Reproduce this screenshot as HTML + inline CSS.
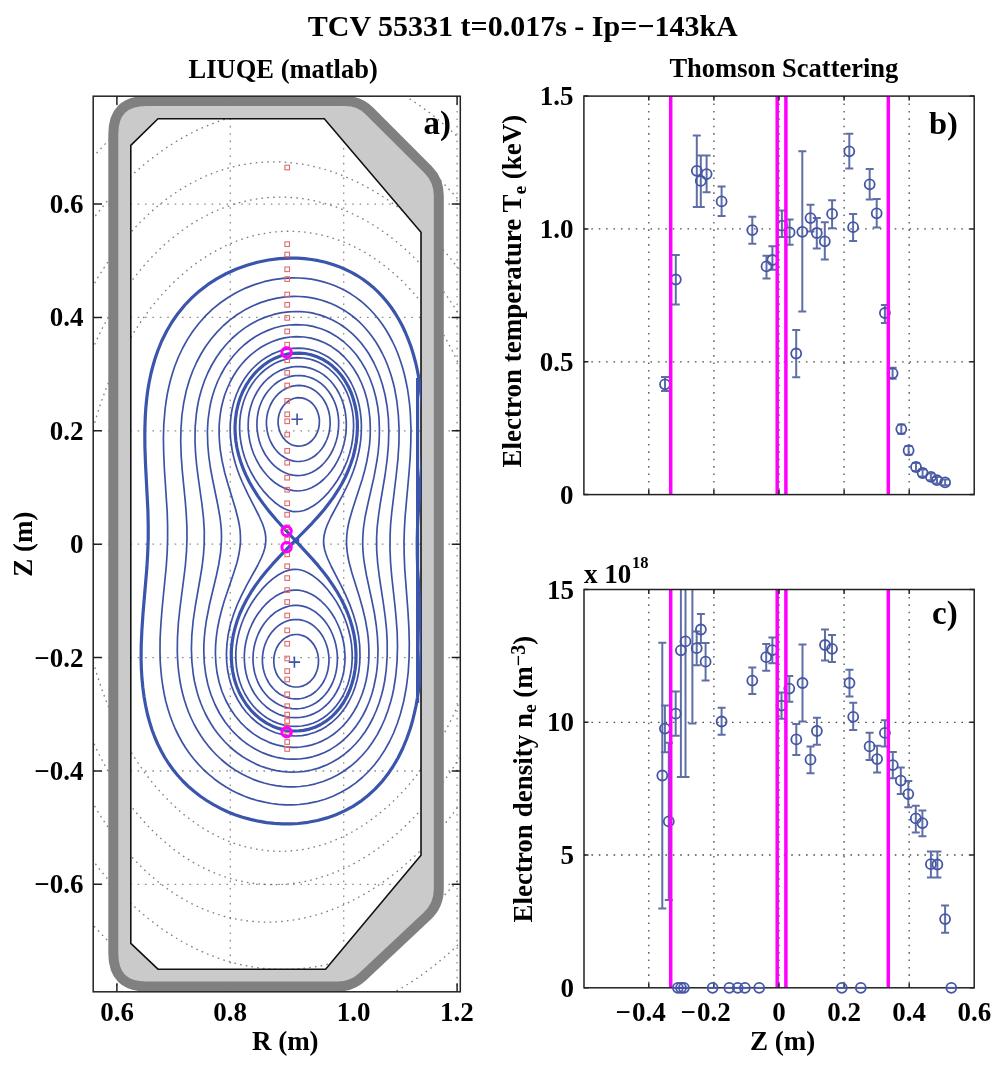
<!DOCTYPE html><html><head><meta charset="utf-8"><style>html,body{margin:0;padding:0;background:#fff;}svg{display:block;filter:blur(0.5px);}</style></head><body>
<svg width="1004" height="1069" viewBox="0 0 1004 1069" font-family="&quot;Liberation Serif&quot;, serif" font-weight="bold">
<rect width="1004" height="1069" fill="#fff"/>
<text x="307.8" y="35.5" font-size="30">TCV 55331 t=0.017s - Ip=−143kA</text>
<text x="188.6" y="77.8" font-size="26.5">LIUQE (matlab)</text>
<text x="669.4" y="77.2" font-size="26.5">Thomson Scattering</text>
<defs><clipPath id="ca"><rect x="93.95" y="96.95" width="365.6" height="894.0999999999999"/></clipPath>
<clipPath id="cin"><path d="M130.8,145.4 L158,118.8 L324.3,118.8 L421,232.3 L421,855.2 L325.6,969.3 L158,969.2 L130.8,943.4 Z"/></clipPath>
<clipPath id="cb"><rect x="583.9" y="96.1" width="390.3" height="398.5"/></clipPath>
<clipPath id="cc"><rect x="584" y="589.5" width="390.2" height="398.3"/></clipPath>
</defs>
<rect x="93.2" y="96.2" width="367.1" height="895.6" fill="none" stroke="#222" stroke-width="1.5"/>
<path d="M116.9,96.2 v8.6 M116.9,991.8 v-8.6 M230.3,96.2 v8.6 M230.3,991.8 v-8.6 M343.7,96.2 v8.6 M343.7,991.8 v-8.6 M457.1,96.2 v8.6 M457.1,991.8 v-8.6 M93.2,204.1 h8.6 M460.3,204.1 h-8.6 M93.2,317.4 h8.6 M460.3,317.4 h-8.6 M93.2,430.8 h8.6 M460.3,430.8 h-8.6 M93.2,544.2 h8.6 M460.3,544.2 h-8.6 M93.2,657.6 h8.6 M460.3,657.6 h-8.6 M93.2,771.0 h8.6 M460.3,771.0 h-8.6 M93.2,884.3 h8.6 M460.3,884.3 h-8.6" stroke="#222" stroke-width="1.5"/>
<g clip-path="url(#ca)">
<path d="M116.9,96.2 V991.8 M230.3,96.2 V991.8 M343.7,96.2 V991.8 M457.1,96.2 V991.8 M93.2,204.1 H460.3 M93.2,317.4 H460.3 M93.2,430.8 H460.3 M93.2,544.2 H460.3 M93.2,657.6 H460.3 M93.2,771.0 H460.3 M93.2,884.3 H460.3" stroke="#000" stroke-width="1.3" stroke-dasharray="1.6 5.8" fill="none" opacity="0.45"/>
<path d="M492.7,541.0 492.4,549.1 492.1,557.3 491.5,565.4 490.9,573.5 490.1,581.5 489.1,589.5 488.1,597.5 486.9,605.4 485.5,613.2 484.0,621.0 482.4,628.7 480.7,636.4 478.8,644.0 476.8,651.5 474.7,658.9 472.5,666.2 470.1,673.4 467.6,680.6 465.1,687.6 462.3,694.6 459.5,701.4 456.6,708.2 453.6,714.8 450.4,721.3 447.2,727.7 443.8,733.9 440.4,740.0 436.8,746.0 433.2,751.9 429.4,757.6 425.6,763.2 421.7,768.7 417.7,774.0 413.6,779.1 409.4,784.1 405.1,789.0 400.8,793.7 396.3,798.2 391.9,802.6 387.3,806.8 382.7,810.8 377.9,814.6 373.2,818.3 368.3,821.8 363.5,825.1 358.5,828.2 353.5,831.2 348.5,833.9 343.4,836.5 338.2,838.8 333.0,841.0 327.8,843.0 322.5,844.7 317.2,846.3 311.9,847.6 306.6,848.8 301.2,849.7 295.8,850.4 290.4,850.9 285.0,851.2 279.6,851.3 274.2,851.2 268.7,850.8 263.3,850.2 257.9,849.4 252.5,848.4 247.2,847.2 241.8,845.8 236.5,844.1 231.2,842.2 225.9,840.1 220.7,837.8 215.5,835.3 210.4,832.6 205.3,829.6 200.3,826.5 195.3,823.1 190.4,819.6 185.5,815.8 180.7,811.9 176.0,807.7 171.4,803.4 166.9,798.8 162.4,794.1 158.0,789.2 153.7,784.2 149.5,778.9 145.4,773.5 141.4,768.0 137.5,762.2 133.7,756.3 130.0,750.3 126.5,744.1 123.0,737.8 119.6,731.3 116.4,724.7 113.3,718.0 110.3,711.2 107.4,704.2 104.7,697.2 102.1,690.0 99.6,682.7 97.2,675.3 95.0,667.9 92.9,660.4 90.9,652.7 89.1,645.0 87.4,637.3 85.9,629.5 84.5,621.6 83.2,613.7 82.1,605.7 81.1,597.7 80.2,589.7 79.5,581.6 78.9,573.5 78.5,565.4 78.2,557.3 78.1,549.1 78.1,541.0 78.2,532.9 78.5,524.8 78.9,516.7 79.5,508.6 80.2,500.6 81.0,492.5 82.0,484.6 83.1,476.6 84.4,468.7 85.8,460.9 87.3,453.1 88.9,445.4 90.7,437.8 92.7,430.2 94.7,422.8 96.9,415.4 99.2,408.1 101.6,400.8 104.2,393.7 106.8,386.7 109.6,379.8 112.6,373.0 115.6,366.3 118.7,359.8 122.0,353.4 125.3,347.1 128.8,340.9 132.4,334.8 136.0,329.0 139.8,323.2 143.7,317.6 147.6,312.2 151.7,306.9 155.8,301.7 160.1,296.7 164.4,291.9 168.7,287.3 173.2,282.8 177.8,278.5 182.4,274.4 187.0,270.4 191.8,266.6 196.6,263.0 201.5,259.6 206.4,256.4 211.4,253.3 216.4,250.5 221.5,247.8 226.6,245.3 231.8,243.1 237.0,241.0 242.2,239.1 247.5,237.4 252.8,235.9 258.1,234.7 263.5,233.6 268.8,232.7 274.2,232.0 279.6,231.6 285.0,231.3 290.4,231.2 295.8,231.4 301.2,231.8 306.6,232.3 312.0,233.1 317.4,234.1 322.8,235.3 328.1,236.7 333.4,238.3 338.7,240.1 344.0,242.1 349.3,244.4 354.4,246.8 359.6,249.5 364.7,252.3 369.8,255.4 374.8,258.7 379.7,262.1 384.6,265.8 389.4,269.6 394.2,273.7 398.9,277.9 403.5,282.4 408.0,287.0 412.5,291.8 416.8,296.8 421.1,302.0 425.3,307.3 429.3,312.9 433.3,318.5 437.2,324.4 440.9,330.4 444.6,336.6 448.1,342.9 451.5,349.3 454.8,355.9 458.0,362.7 461.0,369.5 463.9,376.5 466.7,383.6 469.4,390.8 471.9,398.2 474.3,405.6 476.5,413.1 478.6,420.7 480.6,428.4 482.4,436.2 484.1,444.0 485.6,451.9 487.0,459.8 488.2,467.8 489.3,475.9 490.2,483.9 491.0,492.1 491.7,500.2 492.2,508.3 492.5,516.5 492.7,524.7 492.8,532.8 492.7,541.0Z M517.4,541.0 517.2,550.1 516.8,559.2 516.3,568.3 515.6,577.3 514.7,586.4 513.6,595.3 512.4,604.2 511.0,613.1 509.4,621.8 507.7,630.5 505.8,639.1 503.8,647.6 501.6,656.1 499.3,664.4 496.8,672.6 494.2,680.7 491.4,688.7 488.5,696.6 485.5,704.3 482.4,711.9 479.1,719.4 475.7,726.8 472.2,734.0 468.5,741.0 464.8,748.0 461.0,754.7 457.0,761.4 453.0,767.8 448.8,774.2 444.6,780.3 440.2,786.4 435.8,792.2 431.3,797.9 426.7,803.4 422.0,808.8 417.2,814.0 412.4,819.1 407.5,824.0 402.5,828.7 397.5,833.2 392.3,837.6 387.2,841.8 381.9,845.8 376.6,849.6 371.2,853.2 365.8,856.7 360.3,860.0 354.8,863.1 349.2,866.0 343.5,868.7 337.8,871.2 332.1,873.5 326.3,875.6 320.5,877.5 314.7,879.2 308.8,880.6 302.9,881.9 296.9,882.9 291.0,883.7 285.0,884.3 279.0,884.6 273.0,884.7 267.0,884.6 261.0,884.2 254.9,883.6 248.9,882.7 242.9,881.6 236.9,880.3 231.0,878.7 225.0,876.8 219.1,874.7 213.2,872.4 207.4,869.8 201.6,867.0 195.8,863.9 190.2,860.5 184.5,857.0 179.0,853.1 173.5,849.1 168.1,844.8 162.8,840.2 157.5,835.5 152.4,830.5 147.3,825.3 142.4,819.8 137.5,814.2 132.8,808.3 128.2,802.3 123.7,796.0 119.3,789.6 115.0,782.9 110.9,776.1 106.9,769.1 103.1,762.0 99.3,754.7 95.7,747.3 92.3,739.7 89.0,731.9 85.8,724.1 82.8,716.1 80.0,708.0 77.2,699.8 74.7,691.5 72.2,683.1 70.0,674.6 67.9,666.0 65.9,657.4 64.1,648.7 62.4,639.9 60.9,631.1 59.6,622.2 58.3,613.3 57.3,604.3 56.4,595.3 55.6,586.3 55.0,577.3 54.6,568.2 54.3,559.1 54.1,550.1 54.1,541.0 54.3,531.9 54.6,522.9 55.0,513.9 55.6,504.8 56.4,495.8 57.3,486.9 58.3,478.0 59.5,469.1 60.8,460.3 62.3,451.5 63.9,442.8 65.7,434.1 67.6,425.5 69.6,417.0 71.8,408.6 74.2,400.2 76.7,391.9 79.3,383.8 82.1,375.7 85.0,367.8 88.0,359.9 91.2,352.2 94.5,344.6 98.0,337.2 101.5,329.8 105.3,322.7 109.1,315.6 113.1,308.8 117.1,302.1 121.4,295.5 125.7,289.2 130.1,283.0 134.7,277.0 139.3,271.2 144.1,265.5 149.0,260.1 153.9,254.9 159.0,249.9 164.1,245.1 169.3,240.5 174.7,236.1 180.0,232.0 185.5,228.1 191.0,224.4 196.6,220.9 202.3,217.7 208.0,214.7 213.7,211.9 219.5,209.4 225.4,207.1 231.2,205.1 237.1,203.2 243.1,201.7 249.0,200.3 255.0,199.2 261.0,198.3 267.0,197.7 273.0,197.3 279.0,197.1 285.0,197.2 291.0,197.5 297.0,198.0 303.0,198.7 308.9,199.7 314.9,200.9 320.8,202.3 326.7,203.9 332.5,205.8 338.3,207.8 344.1,210.1 349.9,212.6 355.6,215.2 361.2,218.1 366.8,221.2 372.4,224.5 377.9,228.0 383.3,231.7 388.7,235.6 394.1,239.7 399.3,244.0 404.5,248.5 409.6,253.2 414.7,258.0 419.6,263.1 424.5,268.3 429.3,273.7 434.0,279.3 438.6,285.1 443.1,291.0 447.6,297.1 451.9,303.4 456.1,309.9 460.2,316.5 464.2,323.3 468.1,330.3 471.8,337.4 475.5,344.6 479.0,352.0 482.4,359.6 485.6,367.3 488.7,375.1 491.6,383.1 494.5,391.1 497.1,399.3 499.6,407.6 502.0,416.1 504.2,424.6 506.2,433.2 508.1,441.9 509.8,450.6 511.3,459.5 512.7,468.4 513.9,477.4 514.9,486.4 515.8,495.4 516.5,504.5 517.0,513.6 517.3,522.7 517.4,531.9 517.4,541.0Z M541.9,541.0 541.7,551.1 541.3,561.1 540.7,571.2 539.9,581.2 538.9,591.1 537.7,601.0 536.3,610.9 534.7,620.6 532.9,630.3 531.0,639.9 528.8,649.3 526.5,658.7 524.0,668.0 521.4,677.1 518.6,686.1 515.6,695.0 512.5,703.8 509.3,712.4 505.8,720.9 502.3,729.2 498.6,737.4 494.8,745.4 490.9,753.2 486.8,760.9 482.7,768.5 478.4,775.9 474.0,783.1 469.5,790.2 464.9,797.1 460.2,803.8 455.4,810.3 450.5,816.7 445.6,823.0 440.5,829.0 435.4,834.9 430.1,840.6 424.8,846.2 419.5,851.6 414.0,856.8 408.5,861.8 402.9,866.7 397.2,871.4 391.5,875.9 385.7,880.2 379.8,884.3 373.9,888.2 367.9,892.0 361.8,895.5 355.7,898.9 349.5,902.0 343.3,905.0 337.0,907.7 330.6,910.2 324.2,912.5 317.8,914.5 311.3,916.3 304.8,917.9 298.2,919.3 291.6,920.3 285.0,921.2 278.4,921.7 271.7,922.1 265.0,922.1 258.3,921.9 251.6,921.3 244.9,920.6 238.2,919.5 231.6,918.1 224.9,916.5 218.3,914.5 211.7,912.3 205.1,909.8 198.6,907.0 192.1,903.8 185.7,900.4 179.4,896.8 173.1,892.8 167.0,888.5 160.9,884.0 154.9,879.1 148.9,874.0 143.1,868.7 137.5,863.0 131.9,857.1 126.4,851.0 121.1,844.6 115.9,838.0 110.8,831.1 105.9,824.1 101.1,816.8 96.5,809.3 92.0,801.6 87.7,793.8 83.5,785.7 79.5,777.5 75.7,769.1 72.0,760.6 68.5,751.9 65.1,743.1 61.9,734.2 58.9,725.2 56.0,716.0 53.3,706.8 50.8,697.4 48.4,688.0 46.2,678.5 44.2,668.9 42.3,659.3 40.6,649.6 39.0,639.9 37.6,630.1 36.4,620.3 35.3,610.4 34.4,600.5 33.6,590.7 33.0,580.7 32.5,570.8 32.2,560.9 32.0,550.9 32.0,541.0 32.2,531.1 32.5,521.1 32.9,511.2 33.5,501.4 34.3,491.5 35.2,481.7 36.3,471.8 37.5,462.1 38.8,452.4 40.4,442.7 42.0,433.0 43.9,423.5 45.8,414.0 48.0,404.5 50.3,395.2 52.7,385.9 55.4,376.7 58.1,367.6 61.1,358.6 64.1,349.7 67.4,341.0 70.8,332.3 74.3,323.8 78.0,315.5 81.9,307.2 85.9,299.2 90.1,291.3 94.4,283.6 98.8,276.0 103.4,268.7 108.2,261.5 113.1,254.6 118.1,247.8 123.2,241.3 128.5,235.0 133.8,228.9 139.3,223.1 145.0,217.5 150.7,212.2 156.5,207.1 162.4,202.3 168.4,197.7 174.5,193.4 180.6,189.4 186.9,185.6 193.2,182.2 199.5,179.0 205.9,176.0 212.4,173.4 218.9,171.0 225.4,168.9 232.0,167.1 238.6,165.5 245.2,164.3 251.8,163.3 258.5,162.5 265.1,162.1 271.8,161.8 278.4,161.9 285.0,162.2 291.6,162.8 298.2,163.6 304.7,164.6 311.3,165.9 317.8,167.5 324.3,169.2 330.7,171.2 337.1,173.5 343.4,175.9 349.7,178.6 356.0,181.5 362.2,184.6 368.4,187.9 374.5,191.4 380.5,195.1 386.5,199.0 392.4,203.2 398.3,207.5 404.1,212.0 409.8,216.7 415.5,221.6 421.0,226.8 426.6,232.1 432.0,237.5 437.3,243.2 442.6,249.1 447.8,255.1 452.8,261.4 457.8,267.8 462.7,274.4 467.5,281.2 472.2,288.2 476.7,295.4 481.2,302.7 485.5,310.2 489.7,317.9 493.8,325.7 497.7,333.8 501.5,342.0 505.2,350.3 508.7,358.8 512.1,367.5 515.3,376.2 518.3,385.2 521.2,394.3 523.9,403.5 526.4,412.8 528.8,422.2 530.9,431.7 532.9,441.4 534.7,451.1 536.3,460.9 537.7,470.7 538.9,480.7 539.9,490.7 540.7,500.7 541.3,510.7 541.7,520.8 541.9,530.9 541.9,541.0Z M569.9,541.0 569.8,552.2 569.4,563.4 568.9,574.5 568.2,585.7 567.3,596.8 566.3,607.8 565.0,618.8 563.5,629.8 561.9,640.7 560.0,651.5 558.0,662.3 555.8,673.0 553.4,683.6 550.8,694.0 548.0,704.4 545.1,714.7 541.9,724.8 538.7,734.9 535.2,744.8 531.5,754.5 527.7,764.1 523.8,773.6 519.6,782.9 515.3,792.0 510.9,801.0 506.3,809.8 501.5,818.4 496.6,826.8 491.5,835.0 486.4,843.0 481.0,850.9 475.6,858.5 470.0,865.9 464.2,873.0 458.4,880.0 452.4,886.7 446.4,893.2 440.2,899.4 433.9,905.4 427.5,911.2 421.0,916.7 414.4,921.9 407.7,926.9 400.9,931.6 394.1,936.1 387.2,940.3 380.2,944.2 373.1,947.8 366.0,951.2 358.8,954.3 351.6,957.1 344.3,959.6 337.0,961.8 329.6,963.8 322.3,965.5 314.8,966.8 307.4,967.9 299.9,968.7 292.5,969.2 285.0,969.4 277.5,969.3 270.0,968.9 262.6,968.3 255.1,967.3 247.7,966.1 240.3,964.5 232.9,962.7 225.5,960.5 218.2,958.1 211.0,955.4 203.8,952.4 196.6,949.2 189.5,945.6 182.4,941.8 175.5,937.7 168.6,933.3 161.7,928.7 155.0,923.8 148.3,918.6 141.8,913.1 135.3,907.4 128.9,901.5 122.7,895.3 116.5,888.9 110.5,882.2 104.5,875.3 98.7,868.1 93.1,860.7 87.5,853.1 82.1,845.3 76.8,837.3 71.7,829.1 66.7,820.6 61.9,812.0 57.2,803.2 52.7,794.2 48.3,785.0 44.1,775.7 40.0,766.2 36.2,756.5 32.5,746.7 28.9,736.7 25.6,726.6 22.4,716.4 19.4,706.0 16.6,695.6 13.9,685.0 11.5,674.3 9.2,663.5 7.1,652.7 5.3,641.7 3.6,630.7 2.1,619.7 0.8,608.5 -0.3,597.3 -1.3,586.1 -2.0,574.9 -2.5,563.6 -2.8,552.3 -2.9,541.0 -2.8,529.7 -2.6,518.4 -2.1,507.1 -1.4,495.8 -0.5,484.6 0.5,473.4 1.8,462.3 3.2,451.2 4.9,440.1 6.7,429.2 8.8,418.3 11.0,407.5 13.4,396.7 16.0,386.1 18.8,375.6 21.8,365.2 25.0,354.9 28.3,344.8 31.8,334.8 35.5,324.9 39.3,315.2 43.4,305.6 47.6,296.2 51.9,287.0 56.4,277.9 61.1,269.1 65.9,260.4 70.9,251.9 76.1,243.6 81.3,235.5 86.7,227.6 92.3,220.0 98.0,212.5 103.8,205.3 109.7,198.3 115.8,191.6 121.9,185.1 128.2,178.8 134.6,172.8 141.1,167.1 147.7,161.6 154.3,156.4 161.1,151.4 168.0,146.7 174.9,142.3 181.9,138.1 189.0,134.3 196.1,130.7 203.3,127.4 210.6,124.4 217.9,121.6 225.2,119.2 232.6,117.0 240.0,115.2 247.5,113.6 255.0,112.3 262.5,111.4 270.0,110.7 277.5,110.3 285.0,110.2 292.5,110.4 300.0,110.9 307.5,111.7 315.0,112.8 322.5,114.2 329.9,115.9 337.3,117.9 344.6,120.1 352.0,122.7 359.2,125.5 366.4,128.6 373.6,132.0 380.7,135.7 387.7,139.7 394.7,143.9 401.5,148.4 408.3,153.2 415.0,158.2 421.6,163.5 428.2,169.1 434.6,174.9 440.9,180.9 447.1,187.2 453.2,193.8 459.2,200.5 465.0,207.5 470.7,214.8 476.3,222.2 481.8,229.9 487.1,237.8 492.3,245.9 497.4,254.2 502.3,262.6 507.0,271.3 511.6,280.1 516.1,289.2 520.4,298.4 524.5,307.7 528.4,317.2 532.2,326.9 535.8,336.7 539.3,346.6 542.6,356.7 545.7,366.9 548.6,377.2 551.3,387.7 553.9,398.2 556.2,408.8 558.4,419.5 560.4,430.3 562.2,441.2 563.8,452.1 565.3,463.1 566.5,474.1 567.6,485.2 568.4,496.3 569.1,507.5 569.5,518.6 569.8,529.8 569.9,541.0Z M605.0,541.0 604.9,553.6 604.6,566.1 604.0,578.7 603.2,591.2 602.3,603.7 601.1,616.1 599.6,628.5 598.0,640.8 596.2,653.1 594.1,665.2 591.8,677.3 589.3,689.3 586.6,701.2 583.7,713.0 580.6,724.7 577.3,736.2 573.8,747.6 570.1,758.9 566.2,770.0 562.1,781.0 557.8,791.8 553.4,802.4 548.7,812.9 543.9,823.1 538.9,833.2 533.7,843.1 528.3,852.7 522.8,862.2 517.1,871.4 511.3,880.4 505.3,889.2 499.1,897.7 492.8,906.0 486.4,914.0 479.8,921.8 473.1,929.3 466.2,936.6 459.3,943.6 452.2,950.3 445.0,956.7 437.7,962.8 430.3,968.7 422.8,974.2 415.2,979.5 407.5,984.5 399.7,989.1 391.8,993.5 383.9,997.5 375.9,1001.2 367.8,1004.6 359.7,1007.7 351.5,1010.5 343.3,1013.0 335.1,1015.1 326.8,1016.9 318.4,1018.4 310.1,1019.5 301.7,1020.3 293.4,1020.8 285.0,1021.0 276.6,1020.8 268.3,1020.3 259.9,1019.5 251.6,1018.4 243.2,1016.9 234.9,1015.1 226.7,1013.0 218.5,1010.5 210.3,1007.7 202.2,1004.6 194.1,1001.2 186.1,997.5 178.2,993.5 170.3,989.1 162.5,984.5 154.8,979.5 147.2,974.2 139.7,968.7 132.3,962.8 125.0,956.7 117.8,950.3 110.7,943.6 103.8,936.6 96.9,929.3 90.2,921.8 83.6,914.0 77.2,906.0 70.9,897.7 64.7,889.2 58.7,880.4 52.9,871.4 47.2,862.2 41.7,852.7 36.3,843.1 31.1,833.2 26.1,823.1 21.3,812.9 16.6,802.4 12.2,791.8 7.9,781.0 3.8,770.0 -0.1,758.9 -3.8,747.6 -7.3,736.2 -10.6,724.7 -13.7,713.0 -16.6,701.2 -19.3,689.3 -21.8,677.3 -24.1,665.2 -26.2,653.1 -28.0,640.8 -29.6,628.5 -31.1,616.1 -32.3,603.7 -33.2,591.2 -34.0,578.7 -34.6,566.1 -34.9,553.6 -35.0,541.0 -34.9,528.4 -34.6,515.9 -34.0,503.3 -33.2,490.8 -32.3,478.3 -31.1,465.9 -29.6,453.5 -28.0,441.2 -26.2,428.9 -24.1,416.8 -21.8,404.7 -19.3,392.7 -16.6,380.8 -13.7,369.0 -10.6,357.3 -7.3,345.8 -3.8,334.4 -0.1,323.1 3.8,312.0 7.9,301.0 12.2,290.2 16.6,279.6 21.3,269.1 26.1,258.9 31.1,248.8 36.3,238.9 41.7,229.3 47.2,219.8 52.9,210.6 58.7,201.6 64.7,192.8 70.9,184.3 77.2,176.0 83.6,168.0 90.2,160.2 96.9,152.7 103.8,145.4 110.7,138.4 117.8,131.7 125.0,125.3 132.3,119.2 139.7,113.3 147.2,107.8 154.8,102.5 162.5,97.5 170.3,92.9 178.2,88.5 186.1,84.5 194.1,80.8 202.2,77.4 210.3,74.3 218.5,71.5 226.7,69.0 234.9,66.9 243.2,65.1 251.6,63.6 259.9,62.5 268.3,61.7 276.6,61.2 285.0,61.0 293.4,61.2 301.7,61.7 310.1,62.5 318.4,63.6 326.8,65.1 335.1,66.9 343.3,69.0 351.5,71.5 359.7,74.3 367.8,77.4 375.9,80.8 383.9,84.5 391.8,88.5 399.7,92.9 407.5,97.5 415.2,102.5 422.8,107.8 430.3,113.3 437.7,119.2 445.0,125.3 452.2,131.7 459.3,138.4 466.2,145.4 473.1,152.7 479.8,160.2 486.4,168.0 492.8,176.0 499.1,184.3 505.3,192.8 511.3,201.6 517.1,210.6 522.8,219.8 528.3,229.3 533.7,238.9 538.9,248.8 543.9,258.9 548.7,269.1 553.4,279.6 557.8,290.2 562.1,301.0 566.2,312.0 570.1,323.1 573.8,334.4 577.3,345.8 580.6,357.3 583.7,369.0 586.6,380.8 589.3,392.7 591.8,404.7 594.1,416.8 596.2,428.9 598.0,441.2 599.6,453.5 601.1,465.9 602.3,478.3 603.2,490.8 604.0,503.3 604.6,515.9 604.9,528.4 605.0,541.0Z M641.7,541.0 641.5,555.0 641.2,569.0 640.6,583.0 639.7,596.9 638.6,610.8 637.3,624.7 635.7,638.5 633.9,652.2 631.8,665.9 629.5,679.5 627.0,692.9 624.2,706.3 621.2,719.6 618.0,732.7 614.5,745.7 610.8,758.6 606.9,771.3 602.8,783.9 598.4,796.3 593.9,808.5 589.1,820.5 584.1,832.4 578.9,844.0 573.5,855.5 568.0,866.7 562.2,877.7 556.2,888.5 550.1,899.0 543.7,909.3 537.2,919.3 530.5,929.1 523.7,938.6 516.6,947.8 509.5,956.8 502.1,965.4 494.6,973.8 487.0,981.9 479.3,989.7 471.4,997.2 463.3,1004.3 455.2,1011.2 446.9,1017.7 438.5,1023.9 430.1,1029.7 421.5,1035.3 412.8,1040.5 404.1,1045.3 395.2,1049.8 386.3,1054.0 377.3,1057.8 368.3,1061.2 359.2,1064.3 350.0,1067.0 340.8,1069.4 331.6,1071.4 322.3,1073.1 313.0,1074.4 303.7,1075.3 294.3,1075.8 285.0,1076.0 275.7,1075.8 266.3,1075.3 257.0,1074.4 247.7,1073.1 238.4,1071.4 229.2,1069.4 220.0,1067.0 210.8,1064.3 201.7,1061.2 192.7,1057.8 183.7,1054.0 174.8,1049.8 165.9,1045.3 157.2,1040.5 148.5,1035.3 139.9,1029.7 131.5,1023.9 123.1,1017.7 114.8,1011.2 106.7,1004.3 98.6,997.2 90.7,989.7 83.0,981.9 75.4,973.8 67.9,965.4 60.5,956.8 53.4,947.8 46.3,938.6 39.5,929.1 32.8,919.3 26.3,909.3 19.9,899.0 13.8,888.5 7.8,877.7 2.0,866.7 -3.5,855.5 -8.9,844.0 -14.1,832.4 -19.1,820.5 -23.9,808.5 -28.4,796.3 -32.8,783.9 -36.9,771.3 -40.8,758.6 -44.5,745.7 -48.0,732.7 -51.2,719.6 -54.2,706.3 -57.0,692.9 -59.5,679.5 -61.8,665.9 -63.9,652.2 -65.7,638.5 -67.3,624.7 -68.6,610.8 -69.7,596.9 -70.6,583.0 -71.2,569.0 -71.5,555.0 -71.7,541.0 -71.5,527.0 -71.2,513.0 -70.6,499.0 -69.7,485.1 -68.6,471.2 -67.3,457.3 -65.7,443.5 -63.9,429.8 -61.8,416.1 -59.5,402.5 -57.0,389.1 -54.2,375.7 -51.2,362.4 -48.0,349.3 -44.5,336.3 -40.8,323.4 -36.9,310.7 -32.8,298.1 -28.4,285.7 -23.9,273.5 -19.1,261.5 -14.1,249.6 -8.9,238.0 -3.5,226.5 2.0,215.3 7.8,204.3 13.8,193.5 19.9,183.0 26.3,172.7 32.8,162.7 39.5,152.9 46.3,143.4 53.4,134.2 60.5,125.2 67.9,116.6 75.4,108.2 83.0,100.1 90.7,92.3 98.6,84.8 106.7,77.7 114.8,70.8 123.1,64.3 131.5,58.1 139.9,52.3 148.5,46.7 157.2,41.5 165.9,36.7 174.8,32.2 183.7,28.0 192.7,24.2 201.7,20.8 210.8,17.7 220.0,15.0 229.2,12.6 238.4,10.6 247.7,8.9 257.0,7.6 266.3,6.7 275.7,6.2 285.0,6.0 294.3,6.2 303.7,6.7 313.0,7.6 322.3,8.9 331.6,10.6 340.8,12.6 350.0,15.0 359.2,17.7 368.3,20.8 377.3,24.2 386.3,28.0 395.2,32.2 404.1,36.7 412.8,41.5 421.5,46.7 430.1,52.3 438.5,58.1 446.9,64.3 455.2,70.8 463.3,77.7 471.4,84.8 479.3,92.3 487.0,100.1 494.6,108.2 502.1,116.6 509.5,125.2 516.6,134.2 523.7,143.4 530.5,152.9 537.2,162.7 543.7,172.7 550.1,183.0 556.2,193.5 562.2,204.3 568.0,215.3 573.5,226.5 578.9,238.0 584.1,249.6 589.1,261.5 593.9,273.5 598.4,285.7 602.8,298.1 606.9,310.7 610.8,323.4 614.5,336.3 618.0,349.3 621.2,362.4 624.2,375.7 627.0,389.1 629.5,402.5 631.8,416.1 633.9,429.8 635.7,443.5 637.3,457.3 638.6,471.2 639.7,485.1 640.6,499.0 641.2,513.0 641.5,527.0 641.7,541.0Z M681.7,541.0 681.5,556.6 681.1,572.1 680.4,587.7 679.5,603.2 678.3,618.7 676.8,634.1 675.0,649.4 673.0,664.7 670.7,679.9 668.2,695.0 665.3,710.0 662.3,724.9 658.9,739.6 655.3,754.2 651.5,768.7 647.4,783.0 643.0,797.2 638.4,811.1 633.6,824.9 628.5,838.5 623.2,851.9 617.7,865.1 611.9,878.0 605.9,890.7 599.7,903.2 593.3,915.4 586.6,927.4 579.8,939.1 572.7,950.6 565.5,961.7 558.0,972.6 550.4,983.2 542.6,993.4 534.6,1003.4 526.5,1013.0 518.2,1022.4 509.7,1031.4 501.0,1040.0 492.3,1048.3 483.3,1056.3 474.3,1063.9 465.1,1071.1 455.8,1078.0 446.3,1084.6 436.8,1090.7 427.2,1096.5 417.4,1101.9 407.6,1106.9 397.7,1111.5 387.7,1115.7 377.6,1119.6 367.5,1123.0 357.3,1126.0 347.1,1128.7 336.8,1130.9 326.5,1132.7 316.1,1134.2 305.8,1135.2 295.4,1135.8 285.0,1136.0 274.6,1135.8 264.2,1135.2 253.9,1134.2 243.5,1132.7 233.2,1130.9 222.9,1128.7 212.7,1126.0 202.5,1123.0 192.4,1119.6 182.3,1115.7 172.3,1111.5 162.4,1106.9 152.6,1101.9 142.8,1096.5 133.2,1090.7 123.7,1084.6 114.2,1078.0 104.9,1071.1 95.7,1063.9 86.7,1056.3 77.7,1048.3 69.0,1040.0 60.3,1031.4 51.8,1022.4 43.5,1013.0 35.4,1003.4 27.4,993.4 19.6,983.2 12.0,972.6 4.5,961.7 -2.7,950.6 -9.8,939.1 -16.6,927.4 -23.3,915.4 -29.7,903.2 -35.9,890.7 -41.9,878.0 -47.7,865.1 -53.2,851.9 -58.5,838.5 -63.6,824.9 -68.4,811.1 -73.0,797.2 -77.4,783.0 -81.5,768.7 -85.3,754.2 -88.9,739.6 -92.3,724.9 -95.3,710.0 -98.2,695.0 -100.7,679.9 -103.0,664.7 -105.0,649.4 -106.8,634.1 -108.3,618.7 -109.5,603.2 -110.4,587.7 -111.1,572.1 -111.5,556.6 -111.7,541.0 -111.5,525.4 -111.1,509.9 -110.4,494.3 -109.5,478.8 -108.3,463.3 -106.8,447.9 -105.0,432.6 -103.0,417.3 -100.7,402.1 -98.2,387.0 -95.3,372.0 -92.3,357.1 -88.9,342.4 -85.3,327.8 -81.5,313.3 -77.4,299.0 -73.0,284.8 -68.4,270.9 -63.6,257.1 -58.5,243.5 -53.2,230.1 -47.7,216.9 -41.9,204.0 -35.9,191.3 -29.7,178.8 -23.3,166.6 -16.6,154.6 -9.8,142.9 -2.7,131.4 4.5,120.3 12.0,109.4 19.6,98.8 27.4,88.6 35.4,78.6 43.5,69.0 51.8,59.6 60.3,50.6 69.0,42.0 77.7,33.7 86.7,25.7 95.7,18.1 104.9,10.9 114.2,4.0 123.7,-2.6 133.2,-8.7 142.8,-14.5 152.6,-19.9 162.4,-24.9 172.3,-29.5 182.3,-33.7 192.4,-37.6 202.5,-41.0 212.7,-44.0 222.9,-46.7 233.2,-48.9 243.5,-50.7 253.9,-52.2 264.2,-53.2 274.6,-53.8 285.0,-54.0 295.4,-53.8 305.8,-53.2 316.1,-52.2 326.5,-50.7 336.8,-48.9 347.1,-46.7 357.3,-44.0 367.5,-41.0 377.6,-37.6 387.7,-33.7 397.7,-29.5 407.6,-24.9 417.4,-19.9 427.2,-14.5 436.8,-8.7 446.3,-2.6 455.8,4.0 465.1,10.9 474.3,18.1 483.3,25.7 492.3,33.7 501.0,42.0 509.7,50.6 518.2,59.6 526.5,69.0 534.6,78.6 542.6,88.6 550.4,98.8 558.0,109.4 565.5,120.3 572.7,131.4 579.8,142.9 586.6,154.6 593.3,166.6 599.7,178.8 605.9,191.3 611.9,204.0 617.7,216.9 623.2,230.1 628.5,243.5 633.6,257.1 638.4,270.9 643.0,284.8 647.4,299.0 651.5,313.3 655.3,327.8 658.9,342.4 662.3,357.1 665.3,372.0 668.2,387.0 670.7,402.1 673.0,417.3 675.0,432.6 676.8,447.9 678.3,463.3 679.5,478.8 680.4,494.3 681.1,509.9 681.5,525.4 681.7,541.0Z" stroke="#4a4e66" stroke-width="1.3" stroke-dasharray="1.6 4.2" fill="none" opacity="0.75"/>
<path d="M146.3,101.0 L345.4,101.0 Q359.4,101.0 369.3,110.9 L428.2,169.8 Q438.8,180.4 438.8,195.4 L438.8,889.3 Q438.8,905.3 427.1,916.2 L362.4,976.9 Q352.2,986.5 338.2,986.5 L146.3,986.5 Q113.3,986.5 113.3,953.5 L113.3,134.0 Q113.3,101.0 146.3,101.0 Z M130.8,145.4 L158,118.8 L324.3,118.8 L421,232.3 L421,855.2 L325.6,969.3 L158,969.2 L130.8,943.4 Z" fill="#cacaca" fill-rule="evenodd"/>
<path d="M146.3,101.0 L345.4,101.0 Q359.4,101.0 369.3,110.9 L428.2,169.8 Q438.8,180.4 438.8,195.4 L438.8,889.3 Q438.8,905.3 427.1,916.2 L362.4,976.9 Q352.2,986.5 338.2,986.5 L146.3,986.5 Q113.3,986.5 113.3,953.5 L113.3,134.0 Q113.3,101.0 146.3,101.0 Z" fill="none" stroke="#808080" stroke-width="10"/>
<path d="M130.8,145.4 L158,118.8 L324.3,118.8 L421,232.3 L421,855.2 L325.6,969.3 L158,969.2 L130.8,943.4 Z" fill="none" stroke="#111" stroke-width="1.6"/>
</g>
<g clip-path="url(#cin)" fill="none" stroke-linejoin="round">
<path d="M301.6,446.0 305.5,444.9 309.0,443.0 312.0,440.5 314.9,437.0 317.0,433.2 318.5,429.0 319.3,424.5 319.4,419.5 318.6,415.0 317.1,410.5 315.0,406.7 312.4,403.5 309.0,400.7 305.5,398.9 301.5,397.9 297.5,397.7 293.5,398.5 289.5,400.3 286.0,402.9 283.0,406.2 280.7,410.0 279.0,414.5 278.2,419.0 278.1,424.0 279.0,429.0 280.6,433.5 283.0,437.6 286.0,441.0 289.5,443.6 291.5,444.7 293.5,445.4 297.5,446.2 301.6,446.0 M298.3,687.0 302.5,686.1 306.5,684.3 310.2,681.5 313.3,678.0 314.6,676.0 315.9,673.5 317.5,669.0 318.4,664.0 318.5,659.0 317.8,654.0 316.2,649.0 314.0,644.9 311.0,641.1 307.5,638.0 305.5,636.8 303.5,635.9 299.5,634.7 297.5,634.5 295.0,634.5 292.5,634.8 290.5,635.3 286.5,637.1 284.5,638.4 282.5,640.0 279.3,643.5 278.0,645.5 276.6,648.0 274.9,652.5 273.9,657.5 273.8,663.0 274.5,668.0 276.2,673.0 277.5,675.5 278.8,677.5 281.8,681.0 285.5,683.9 289.5,685.9 291.5,686.5 294.0,687.0 298.3,687.0 M303.4,461.0 306.5,460.2 309.0,459.2 312.0,457.7 314.6,456.0 317.0,454.0 319.5,451.5 321.6,449.0 323.7,446.0 325.3,443.0 326.9,439.5 328.2,436.0 329.1,432.5 329.7,429.0 330.1,425.5 330.1,421.5 329.9,418.0 329.4,414.5 328.6,411.0 327.5,407.5 326.3,404.5 324.7,401.5 322.8,398.5 320.8,396.0 318.5,393.6 316.0,391.4 313.5,389.7 311.0,388.3 308.0,387.0 305.0,386.1 302.0,385.6 299.0,385.4 296.0,385.6 292.5,386.1 289.5,387.0 286.5,388.2 283.5,389.9 280.5,392.0 278.0,394.2 275.5,396.9 273.5,399.5 271.7,402.5 270.2,405.5 268.8,409.0 267.7,412.5 267.0,416.0 266.5,420.0 266.4,423.5 266.7,427.5 267.3,431.5 268.1,435.0 269.3,438.5 270.8,442.0 272.7,445.5 274.7,448.5 277.0,451.3 279.5,453.8 282.0,455.8 285.0,457.8 288.0,459.3 291.0,460.4 294.0,461.1 297.0,461.5 300.0,461.4 303.4,461.0 M301.4,698.5 304.5,697.7 307.5,696.6 310.5,695.2 313.1,693.5 315.7,691.5 318.2,689.0 320.5,686.3 322.5,683.5 324.2,680.5 325.8,677.0 327.0,673.5 327.9,670.0 328.5,666.5 328.9,662.5 329.0,659.0 328.7,655.0 328.1,651.0 327.3,647.5 326.2,644.0 324.8,640.5 323.1,637.0 321.2,634.0 319.0,631.1 316.6,628.5 314.0,626.1 311.5,624.3 308.5,622.5 305.5,621.2 302.5,620.3 299.5,619.7 296.5,619.5 293.5,619.6 290.0,620.1 287.0,621.0 283.5,622.5 280.5,624.2 277.5,626.4 275.0,628.6 272.5,631.3 270.1,634.5 268.2,637.5 266.5,641.0 265.0,644.6 263.8,648.5 263.0,652.5 262.5,656.5 262.4,660.5 262.6,664.5 263.2,668.5 264.2,672.5 265.4,676.0 267.0,679.5 268.9,683.0 271.0,685.9 273.2,688.5 275.7,691.0 278.5,693.2 281.5,695.1 284.5,696.6 288.0,697.8 291.0,698.5 294.5,698.9 298.0,698.9 301.4,698.5 M300.9,475.5 304.5,474.9 308.5,473.8 312.0,472.3 315.5,470.3 319.0,467.8 322.2,465.0 325.4,461.5 328.1,458.0 330.7,454.0 332.8,450.0 334.7,445.5 336.2,441.0 337.4,436.5 338.2,431.5 338.6,426.5 338.7,421.5 338.3,416.5 337.6,412.0 336.5,407.5 335.0,403.1 333.2,399.0 331.0,395.0 328.7,391.5 326.0,388.2 323.0,385.2 320.0,382.7 316.5,380.4 313.0,378.6 309.5,377.2 305.5,376.2 301.5,375.6 297.5,375.5 293.5,375.8 289.5,376.7 285.5,378.0 281.5,379.8 278.0,381.8 274.4,384.5 271.2,387.5 268.1,391.0 265.5,394.5 263.1,398.5 261.2,402.5 259.5,407.0 258.3,411.5 257.4,416.5 257.0,421.0 256.9,426.0 257.3,431.0 258.1,436.0 259.3,441.0 260.8,445.5 262.8,450.0 265.2,454.5 268.0,458.6 271.0,462.3 274.0,465.4 277.5,468.3 281.0,470.7 285.0,472.8 289.0,474.3 293.0,475.2 297.0,475.6 300.9,475.5 M300.6,708.5 304.5,707.8 308.5,706.5 312.5,704.8 316.0,702.8 319.5,700.2 322.5,697.5 325.5,694.2 328.3,690.5 330.7,686.5 332.7,682.5 334.4,678.0 335.7,673.5 336.6,669.0 337.2,664.0 337.4,659.5 337.3,654.5 336.7,649.5 335.8,644.5 334.4,639.5 332.8,635.0 330.8,630.5 328.5,626.4 325.9,622.5 323.0,618.9 320.0,615.8 316.5,612.8 313.0,610.4 309.0,608.3 305.5,606.9 301.5,605.9 297.5,605.4 293.5,605.4 289.5,606.0 285.5,607.1 281.5,608.7 277.5,610.9 274.0,613.3 270.3,616.5 267.0,620.0 263.9,624.0 261.0,628.5 258.7,633.0 256.8,637.5 255.2,642.5 254.0,647.5 253.3,652.5 253.0,658.0 253.1,663.0 253.7,668.0 254.7,673.0 256.1,677.5 257.8,682.0 260.0,686.3 262.5,690.2 265.4,694.0 268.5,697.3 272.0,700.3 275.5,702.8 279.5,705.0 283.5,706.7 287.5,707.8 292.0,708.6 296.5,708.8 300.6,708.5 M302.7,490.5 307.0,489.5 311.5,487.7 316.0,485.2 320.0,482.5 324.0,479.0 327.9,475.0 331.5,470.5 334.6,466.0 337.5,460.9 340.1,455.5 342.2,450.0 343.9,444.0 345.1,438.5 346.0,432.5 346.3,426.5 346.2,420.5 345.6,414.5 344.7,409.0 343.2,403.5 341.4,398.5 339.1,393.5 336.6,389.0 333.8,385.0 330.5,381.0 326.9,377.5 323.0,374.4 319.0,371.9 314.5,369.7 310.0,368.1 305.5,367.1 301.0,366.6 296.0,366.5 291.0,367.1 286.0,368.3 281.0,370.1 276.5,372.4 272.0,375.3 268.0,378.5 264.0,382.4 260.6,386.5 257.6,391.0 254.8,396.0 252.6,401.0 250.8,406.5 249.4,412.0 248.5,418.0 248.2,423.5 248.2,429.5 248.9,436.0 250.0,442.0 251.6,448.0 253.7,454.0 256.5,460.0 259.5,465.4 263.0,470.5 266.7,475.0 270.5,479.0 275.0,482.8 279.5,485.8 284.0,488.1 288.5,489.7 293.5,490.7 298.0,491.0 302.7,490.5 M300.1,717.5 305.0,716.7 309.5,715.4 314.0,713.6 318.5,711.2 322.5,708.4 326.5,705.0 330.0,701.3 333.4,697.0 336.2,692.5 338.8,687.5 340.8,682.5 342.5,677.0 343.8,671.5 344.6,665.5 345.0,660.0 344.9,654.0 344.4,647.5 343.4,641.5 341.9,635.5 340.0,629.7 337.6,624.0 334.9,618.5 331.8,613.5 328.2,608.5 324.5,604.3 320.5,600.5 316.5,597.3 312.0,594.5 307.5,592.4 303.0,591.0 298.5,590.2 294.0,590.1 289.0,590.7 284.5,591.9 280.0,593.8 275.0,596.6 270.5,599.9 266.0,604.0 262.0,608.4 258.1,613.5 254.6,619.0 251.8,624.5 249.4,630.0 247.4,636.0 245.9,642.0 244.8,648.5 244.3,655.0 244.4,661.0 244.9,667.0 246.0,673.0 247.4,678.5 249.5,684.0 251.8,689.0 254.7,694.0 258.0,698.5 262.0,703.0 266.0,706.7 270.5,710.0 275.0,712.6 280.0,714.9 285.0,716.4 290.0,717.4 295.0,717.7 300.1,717.5 M299.2,511.5 304.0,510.5 308.5,508.6 313.5,505.8 318.5,502.1 323.5,497.6 328.5,492.3 333.1,486.5 337.6,480.0 341.4,473.5 344.5,467.2 347.3,460.5 349.6,453.5 351.4,446.5 352.6,439.5 353.4,432.0 353.6,425.0 353.3,418.0 352.5,411.5 351.1,405.0 349.2,398.5 346.9,392.5 344.1,387.0 341.0,381.9 337.4,377.0 333.5,372.8 329.0,368.8 324.0,365.2 319.1,362.5 314.0,360.4 308.5,358.8 303.0,358.0 297.5,357.7 291.5,358.2 286.0,359.2 280.5,360.9 275.0,363.3 269.6,366.5 264.8,370.0 260.3,374.0 256.0,378.8 252.1,384.0 248.8,389.5 245.9,395.5 243.6,401.5 241.8,408.0 240.5,414.5 239.8,421.0 239.6,428.0 239.9,435.0 240.9,442.5 242.5,450.0 244.7,457.5 247.5,464.8 250.9,472.0 254.9,479.0 259.0,485.2 264.0,491.7 269.0,497.1 274.5,502.2 279.5,505.9 284.5,508.8 289.5,510.7 292.0,511.3 294.5,511.6 299.2,511.5 M301.8,726.0 307.5,724.9 313.0,723.2 318.0,720.9 323.0,718.0 327.5,714.7 332.0,710.6 336.0,706.1 339.4,701.5 342.8,696.0 345.4,690.5 347.8,684.5 349.5,678.5 350.9,672.0 351.8,665.5 352.2,658.5 352.1,651.5 351.5,644.0 350.3,637.0 348.5,629.5 346.3,622.5 343.5,615.4 340.2,608.5 336.5,601.9 332.5,595.9 328.0,590.0 323.0,584.4 318.0,579.7 313.0,575.8 308.0,572.7 303.5,570.8 298.5,569.5 294.0,569.3 291.5,569.6 289.0,570.1 284.0,571.8 278.5,574.7 273.0,578.6 267.5,583.4 262.0,589.2 256.9,595.5 252.0,602.5 248.0,609.4 244.5,616.5 241.7,623.5 239.3,631.0 237.5,638.5 236.3,646.0 235.8,653.5 235.9,660.5 236.5,667.5 237.8,674.5 239.7,681.5 242.1,688.0 245.0,694.0 248.7,700.0 252.5,705.1 257.0,710.0 262.0,714.4 267.0,718.0 272.5,721.1 278.0,723.4 284.0,725.1 290.0,726.1 296.0,726.4 301.8,726.0 M295.6,736.0 302.0,735.6 308.5,734.3 314.5,732.5 320.5,729.9 326.5,726.4 331.8,722.5 337.0,717.7 341.5,712.6 345.6,707.0 349.4,700.5 352.5,694.0 355.1,687.0 357.2,679.5 358.8,671.5 359.7,663.5 360.0,655.5 359.7,645.5 358.5,635.5 356.5,625.5 353.5,615.0 350.0,605.1 345.5,594.6 341.0,585.3 331.3,566.5 327.4,558.0 325.8,553.5 324.6,549.5 323.9,545.5 323.6,541.5 323.8,537.5 324.5,533.5 325.6,529.5 327.2,525.0 330.9,517.0 342.5,495.4 348.1,484.0 350.9,477.5 353.2,471.5 355.4,465.0 357.1,459.0 358.8,452.0 360.0,445.5 360.9,438.5 361.3,432.0 361.4,425.5 361.1,419.0 360.4,412.5 359.4,406.5 358.0,400.5 356.1,394.5 353.8,388.5 351.2,383.0 348.3,378.0 344.9,373.0 341.3,368.5 337.5,364.5 333.0,360.6 328.5,357.3 324.0,354.7 319.0,352.3 314.0,350.5 308.5,349.1 303.5,348.4 298.0,348.1 292.5,348.3 287.0,349.1 281.5,350.4 276.5,352.2 271.5,354.4 266.5,357.2 261.5,360.6 257.0,364.3 252.6,368.5 248.7,373.0 245.0,378.0 241.9,383.0 239.0,388.5 236.4,394.5 234.3,400.5 232.7,406.5 231.5,412.5 230.7,419.0 230.2,425.0 230.2,431.5 230.5,438.0 231.3,444.5 232.3,451.0 233.8,457.5 235.4,463.5 237.3,469.5 239.5,475.5 242.2,482.0 247.5,493.4 258.8,515.5 262.6,524.0 264.1,528.5 265.1,532.5 265.7,536.5 265.8,540.5 265.5,544.5 264.7,548.5 263.3,553.0 261.5,557.5 257.6,565.5 247.0,584.7 242.0,594.3 237.3,604.5 233.7,614.0 230.4,624.5 228.2,634.5 226.9,644.5 226.4,654.0 226.7,662.0 227.6,670.0 229.2,678.0 231.4,685.5 234.1,692.5 237.6,699.5 241.6,706.0 246.1,712.0 251.3,717.5 257.0,722.5 263.0,726.7 269.0,730.0 275.5,732.7 282.0,734.5 289.0,735.7 295.6,736.0 M300.6,747.0 306.5,746.2 312.0,744.9 317.5,743.0 323.0,740.6 328.0,737.9 333.2,734.5 338.0,730.6 342.4,726.5 346.5,721.9 350.3,717.0 353.9,711.5 357.0,706.0 359.8,700.0 362.2,694.0 364.3,687.5 366.1,680.5 367.1,675.0 368.0,669.0 368.6,663.0 368.9,657.0 368.9,651.0 368.7,644.5 368.2,638.0 367.4,631.5 365.4,620.0 362.5,607.7 359.3,596.5 351.8,572.5 349.0,562.0 347.9,556.5 347.1,551.0 346.6,545.5 346.5,540.5 346.8,535.5 347.4,530.0 348.4,524.5 349.7,519.0 352.6,509.0 362.2,479.5 364.8,470.0 366.8,461.5 368.4,452.5 369.6,444.0 370.2,435.5 370.3,427.5 369.9,418.0 368.8,409.0 367.1,400.0 364.7,391.5 361.7,383.5 358.0,375.8 353.6,368.5 349.0,362.2 343.8,356.5 338.0,351.2 331.5,346.6 325.0,343.0 318.0,340.1 311.0,338.1 304.0,337.0 296.5,336.7 290.5,337.0 284.5,337.9 278.5,339.4 272.5,341.5 266.5,344.2 261.0,347.3 255.5,351.1 250.5,355.1 245.5,359.9 241.0,365.0 237.0,370.3 233.4,376.0 230.1,382.0 227.2,388.5 224.7,395.0 222.7,402.0 221.4,407.5 220.4,413.5 219.7,419.0 219.2,425.0 219.1,431.0 219.2,437.0 219.6,443.0 220.2,449.5 222.1,461.0 224.8,473.0 228.0,484.3 235.4,508.5 238.1,519.0 239.3,525.0 240.1,530.5 240.4,536.0 240.5,541.0 240.1,546.0 239.4,551.5 238.3,557.0 237.0,562.5 233.9,572.5 224.1,601.5 221.4,611.0 219.3,619.5 217.5,628.5 216.3,637.0 215.6,645.5 215.4,653.5 215.9,663.5 217.1,673.0 219.2,682.5 222.0,691.5 225.6,700.0 229.9,708.0 234.9,715.5 240.5,722.3 246.8,728.5 253.5,733.9 260.9,738.5 268.5,742.1 272.5,743.6 276.5,744.9 284.5,746.6 292.5,747.3 296.5,747.3 300.6,747.0 M299.5,759.0 306.0,758.2 312.5,756.8 318.5,754.9 324.5,752.5 330.5,749.4 336.0,745.9 341.5,741.7 346.5,737.2 351.0,732.5 355.5,726.9 359.5,721.1 363.1,715.0 366.4,708.5 369.3,701.5 371.9,694.0 373.9,686.5 376.2,675.0 377.0,669.0 377.6,662.5 378.0,650.0 377.4,636.5 376.2,625.0 374.3,612.5 371.9,600.5 366.5,575.5 364.4,563.5 363.5,557.0 363.0,551.0 362.7,545.0 362.7,539.5 363.4,528.5 365.1,517.0 367.4,506.0 374.0,476.9 377.1,460.0 378.2,452.0 378.9,444.0 379.3,436.5 379.4,429.0 379.0,418.0 377.8,407.5 375.9,397.5 373.2,387.5 369.7,378.0 365.7,369.5 361.0,361.4 355.7,354.0 349.9,347.5 343.4,341.5 336.5,336.4 329.0,332.1 325.0,330.3 321.0,328.7 313.0,326.4 309.0,325.6 304.5,325.0 296.0,324.6 289.0,325.0 282.0,326.0 275.0,327.8 268.5,330.1 262.0,333.0 255.6,336.5 249.7,340.5 244.0,345.0 238.5,350.2 233.5,355.7 229.0,361.5 224.6,368.0 221.0,374.5 217.6,381.5 214.7,389.0 212.3,396.5 210.9,402.0 209.7,408.0 208.1,419.5 207.7,425.5 207.4,432.0 207.8,445.0 208.8,456.5 210.6,469.0 212.8,480.5 217.9,505.5 220.0,517.5 220.8,524.0 221.3,530.0 221.5,536.0 221.4,541.5 220.6,552.5 218.7,564.5 216.4,575.5 209.5,604.5 206.3,621.0 205.2,629.0 204.4,636.5 203.9,644.0 203.8,651.5 204.3,663.0 205.7,674.0 207.9,684.5 209.5,690.0 211.1,695.0 215.0,704.5 219.6,713.5 225.1,722.0 228.2,726.0 231.5,730.0 235.0,733.7 238.5,737.0 242.0,740.1 246.0,743.2 250.0,745.9 254.2,748.5 258.5,750.8 263.0,752.9 267.5,754.6 272.0,756.1 276.5,757.3 281.0,758.2 285.5,758.8 290.5,759.2 295.0,759.2 299.5,759.0 M297.1,772.0 304.5,771.3 311.5,770.0 318.5,768.1 325.5,765.4 332.0,762.3 338.5,758.5 344.5,754.1 350.0,749.5 355.5,744.0 360.2,738.5 365.0,732.0 369.0,725.5 373.0,718.0 376.3,710.5 379.3,702.5 381.7,694.5 383.2,688.5 384.5,682.0 385.5,675.5 386.3,669.0 387.2,655.5 387.2,641.5 386.5,629.0 385.1,616.0 383.4,603.5 379.3,576.5 377.7,563.5 376.7,550.5 376.6,538.0 377.2,527.0 378.6,515.0 380.2,504.0 385.0,475.5 387.1,460.0 388.4,445.5 388.8,431.5 388.4,418.5 387.1,406.5 385.1,395.0 382.1,383.5 378.5,373.0 374.0,363.0 369.0,354.0 366.0,349.5 363.0,345.4 359.8,341.5 356.5,337.9 353.0,334.4 349.0,330.8 345.0,327.7 341.2,325.0 337.0,322.4 333.0,320.3 328.5,318.2 324.0,316.4 319.5,314.9 315.0,313.7 310.5,312.7 305.5,312.0 301.0,311.6 296.0,311.5 288.5,311.8 280.5,312.9 273.0,314.7 265.5,317.1 258.0,320.3 251.0,324.0 244.5,328.1 238.0,333.1 231.9,338.5 226.2,344.5 221.0,350.8 216.3,357.5 211.8,365.0 208.0,372.5 204.6,380.5 201.7,389.0 200.0,395.0 198.5,401.0 197.4,407.0 196.4,413.5 195.2,426.5 195.0,440.5 195.5,452.5 196.7,465.5 198.2,477.5 202.0,504.5 203.5,518.0 204.3,531.0 204.2,543.5 203.5,554.5 202.1,566.5 200.3,577.5 195.4,605.5 193.2,620.5 191.8,635.5 191.4,649.0 191.9,662.0 193.3,674.5 194.3,680.5 195.7,686.5 197.2,692.5 198.9,698.0 200.9,703.5 203.2,709.0 205.5,714.0 208.2,719.0 211.1,724.0 214.0,728.5 217.3,733.0 221.0,737.5 225.0,742.0 229.0,745.9 233.0,749.5 237.4,753.0 242.0,756.3 246.5,759.1 251.0,761.6 256.0,764.1 261.0,766.2 266.0,767.9 271.0,769.3 276.5,770.6 281.5,771.4 287.0,771.9 292.0,772.1 297.1,772.0 M300.0,786.5 308.0,785.5 315.5,783.8 323.0,781.5 330.5,778.5 337.5,775.0 344.0,771.0 350.5,766.3 356.5,761.1 362.1,755.5 367.5,749.2 372.5,742.3 377.0,735.1 381.0,727.5 384.6,719.5 387.8,711.0 390.6,702.0 392.3,695.5 393.7,689.0 395.8,675.5 397.1,661.0 397.5,646.0 397.2,633.0 396.2,619.0 395.0,606.0 391.8,577.0 390.6,563.0 390.0,549.0 390.1,535.5 390.6,524.5 391.7,513.0 396.3,474.5 397.9,459.5 398.9,444.0 399.1,430.0 398.4,415.5 396.9,401.5 394.6,388.5 393.0,382.0 391.3,376.0 389.3,370.0 387.1,364.0 384.8,358.5 382.1,353.0 379.4,348.0 376.5,343.0 373.1,338.0 369.8,333.5 366.0,329.0 362.4,325.0 358.5,321.2 354.2,317.5 350.0,314.2 345.5,311.1 341.0,308.4 336.0,305.8 331.0,303.5 326.0,301.6 321.0,300.0 315.5,298.6 310.5,297.6 305.0,296.9 299.5,296.5 294.0,296.4 285.5,296.9 277.0,298.1 268.5,300.1 260.5,302.6 252.5,306.0 244.5,310.1 237.0,314.7 230.0,319.9 223.5,325.5 217.0,332.1 211.1,339.0 205.6,346.5 200.7,354.5 196.5,362.5 192.7,371.0 189.4,380.0 186.2,391.0 183.7,403.0 181.9,415.5 181.0,428.5 180.7,441.5 181.2,456.0 182.3,471.0 185.2,500.5 186.2,513.0 186.9,526.5 187.0,539.0 186.5,551.5 185.4,565.0 183.9,577.5 180.1,607.0 178.4,622.5 177.5,637.0 177.3,650.5 177.5,658.0 178.0,665.5 178.8,673.0 179.8,680.0 181.1,687.0 182.6,693.5 184.4,700.0 186.5,706.5 188.7,712.5 191.3,718.5 194.2,724.5 197.3,730.0 200.7,735.5 204.1,740.5 208.0,745.6 212.2,750.5 216.5,755.0 221.3,759.5 226.0,763.5 231.0,767.2 236.0,770.6 241.5,773.8 247.0,776.6 252.5,779.1 258.0,781.1 264.0,783.0 270.0,784.5 276.0,785.7 282.0,786.4 288.0,786.8 294.0,786.8 300.0,786.5 M299.1,804.5 308.0,803.4 316.5,801.7 325.0,799.2 333.0,796.2 341.0,792.3 348.5,788.0 355.5,783.1 362.3,777.5 368.5,771.5 374.5,764.7 380.0,757.4 385.0,749.7 389.6,741.5 393.6,733.0 397.3,723.5 400.4,714.0 403.8,701.0 406.4,687.0 408.2,672.5 409.1,657.5 409.3,643.5 408.9,628.0 408.0,612.0 404.7,568.5 404.2,555.0 404.0,542.0 404.4,529.0 405.2,515.5 409.1,472.0 410.2,457.0 410.8,442.5 411.0,429.0 410.3,412.5 409.6,404.5 408.6,396.5 407.5,389.0 406.0,381.5 404.3,374.0 402.4,367.0 400.1,360.0 397.8,353.5 395.1,347.0 392.2,341.0 389.0,335.0 385.8,329.5 382.1,324.0 378.4,319.0 374.2,314.0 370.1,309.5 365.5,305.1 361.0,301.2 356.0,297.4 351.0,294.1 346.0,291.1 340.5,288.3 335.0,285.8 329.5,283.7 323.5,281.9 317.5,280.4 311.5,279.2 305.0,278.4 299.0,278.0 292.5,277.9 283.0,278.3 273.5,279.6 264.0,281.7 254.5,284.6 245.5,288.1 236.5,292.5 228.0,297.5 220.1,303.0 212.5,309.2 205.5,315.9 199.0,323.2 193.0,331.0 187.5,339.4 182.7,348.0 178.2,357.5 174.5,367.0 172.4,373.5 170.5,380.0 168.8,387.0 167.3,394.0 166.1,401.5 165.1,409.0 163.8,424.5 163.4,438.5 163.7,453.5 164.4,469.0 167.2,512.0 167.6,526.0 167.6,539.0 167.2,552.0 166.3,566.0 162.1,608.5 160.9,624.0 160.1,638.5 160.0,652.0 160.2,661.0 160.8,669.5 161.6,677.5 162.7,685.5 164.1,693.5 165.7,701.0 167.8,708.5 170.0,715.5 172.6,722.5 175.3,729.0 178.5,735.5 182.0,742.0 185.7,748.0 189.5,753.5 193.8,759.0 198.5,764.4 203.4,769.5 208.5,774.2 214.0,778.7 219.8,783.0 226.0,787.0 232.0,790.4 238.0,793.4 244.5,796.2 251.0,798.6 258.0,800.7 264.5,802.2 271.5,803.5 278.5,804.4 285.5,804.8 292.5,804.9 299.1,804.5" stroke="#3d52a5" stroke-width="1.7"/>
<path d="M295.7,540.0 312.0,523.3 318.5,516.1 324.0,509.7 329.0,503.3 333.5,497.1 338.0,490.2 341.7,484.0 345.1,477.5 348.2,470.5 350.9,463.5 353.2,456.5 354.9,449.5 356.2,442.5 357.0,435.5 357.4,428.5 357.3,421.0 356.6,413.5 355.3,406.5 353.5,399.5 351.3,393.0 348.3,386.5 345.0,380.7 341.4,375.5 337.1,370.5 332.5,366.1 327.5,362.3 322.5,359.2 317.0,356.7 311.0,354.7 305.0,353.5 299.0,353.1 293.0,353.3 287.0,354.2 281.0,355.8 275.0,358.2 269.0,361.4 263.8,365.0 258.5,369.5 254.0,374.2 249.8,379.5 246.0,385.4 242.8,391.5 240.1,398.0 238.0,405.0 236.4,412.0 235.5,419.0 235.0,426.5 235.2,433.5 235.8,440.5 236.9,447.5 238.5,454.4 240.6,461.5 243.1,468.5 246.0,475.1 249.5,482.2 253.5,489.2 258.0,496.3 263.0,503.4 268.5,510.6 276.0,519.5 285.0,529.5 294.9,540.0 295.0,540.3 295.5,540.4 295.7,540.0 M297.7,731.0 303.5,730.4 309.5,729.1 315.0,727.2 320.7,724.5 326.0,721.2 331.0,717.3 335.5,712.9 339.7,708.0 343.5,702.5 346.9,696.5 349.8,690.0 352.0,683.5 353.9,676.5 355.1,669.5 355.9,662.0 356.0,654.5 355.7,647.5 355.0,640.5 353.8,633.5 352.1,626.5 350.0,619.5 347.4,612.5 344.5,605.7 341.0,598.7 337.2,592.0 333.0,585.3 328.5,578.8 323.5,572.2 318.0,565.4 312.5,559.1 295.5,540.6 295.0,540.6 279.5,556.6 272.5,564.2 266.0,571.7 260.5,578.6 255.5,585.4 251.0,592.2 246.7,599.5 243.1,606.5 239.9,613.5 237.3,620.5 235.0,628.0 233.2,635.5 232.1,642.5 231.4,649.5 231.3,656.5 231.7,664.0 232.7,671.5 234.3,679.0 236.6,686.0 239.3,692.5 242.8,699.0 246.7,705.0 251.0,710.3 255.7,715.0 261.0,719.4 266.5,723.1 272.5,726.2 278.5,728.4 285.0,730.1 291.5,730.9 297.7,731.0 M298.2,823.5 308.0,822.3 317.5,820.5 327.0,817.9 336.0,814.7 344.5,810.9 353.0,806.3 360.5,801.4 368.0,795.5 375.0,789.1 381.5,782.2 387.5,774.6 393.0,766.5 398.0,758.0 402.7,748.5 406.6,739.0 410.3,728.5 412.5,721.0 414.3,713.5 416.0,706.0 417.4,698.0 418.6,689.5 419.6,681.0 420.3,672.0 420.8,663.0 421.2,648.0 420.9,631.5 420.3,615.0 417.7,569.5 417.3,555.5 417.2,542.0 417.5,528.5 418.2,514.5 421.4,470.0 422.4,454.0 422.9,438.5 423.0,424.5 422.7,415.0 422.2,405.5 421.4,396.5 420.3,387.5 419.0,379.0 417.4,370.5 415.6,362.5 413.4,354.5 411.1,347.0 408.3,339.5 405.4,332.5 402.4,326.0 398.9,319.5 395.3,313.5 391.3,307.5 387.1,302.0 382.5,296.6 378.0,291.9 373.0,287.2 368.0,283.1 362.5,279.0 357.0,275.5 351.0,272.1 345.0,269.2 338.5,266.4 332.0,264.2 325.5,262.3 318.5,260.7 311.5,259.5 304.5,258.6 297.5,258.2 290.0,258.1 279.0,258.7 268.5,260.0 257.5,262.2 247.0,265.2 236.5,269.0 226.5,273.5 217.0,278.6 208.0,284.4 199.5,290.9 192.0,297.6 184.9,305.0 178.0,313.4 172.0,322.0 166.7,331.0 161.7,341.0 157.7,351.0 155.1,358.5 152.9,366.0 151.0,373.5 149.3,381.5 147.9,389.5 146.8,398.0 145.9,407.0 145.3,416.0 144.8,431.0 144.9,447.0 145.5,464.0 147.9,510.5 148.2,525.0 148.2,539.0 147.7,553.0 146.9,567.5 143.0,613.5 141.9,630.0 141.2,645.5 141.1,660.0 141.4,669.5 142.0,679.0 142.9,688.0 144.1,697.0 145.6,705.5 147.4,714.0 149.6,722.0 151.9,729.5 154.7,737.0 157.7,744.0 161.2,751.0 164.8,757.5 169.0,764.0 173.3,770.0 177.8,775.5 182.8,781.0 188.4,786.5 194.0,791.3 200.0,796.0 206.6,800.5 213.5,804.7 220.5,808.4 227.5,811.7 235.0,814.7 242.5,817.2 250.5,819.4 258.5,821.2 266.5,822.6 274.5,823.4 282.5,823.9 290.5,823.9 298.2,823.5 M417.6,378 V703" stroke="#3a55ab" stroke-width="3.2"/>
</g>
<g fill="none" stroke="#e06a6a" stroke-width="1.1"><rect x="284.9" y="165.2" width="4.6" height="4.6"/><rect x="284.9" y="241.9" width="4.6" height="4.6"/><rect x="284.9" y="252.2" width="4.6" height="4.6"/><rect x="284.9" y="267.0" width="4.6" height="4.6"/><rect x="284.9" y="276.8" width="4.6" height="4.6"/><rect x="284.9" y="292.2" width="4.6" height="4.6"/><rect x="284.9" y="302.5" width="4.6" height="4.6"/><rect x="284.9" y="315.6" width="4.6" height="4.6"/><rect x="284.9" y="329.1" width="4.6" height="4.6"/><rect x="284.9" y="342.4" width="4.6" height="4.6"/><rect x="284.9" y="357.9" width="4.6" height="4.6"/><rect x="284.9" y="370.5" width="4.6" height="4.6"/><rect x="284.9" y="383.2" width="4.6" height="4.6"/><rect x="284.9" y="398.6" width="4.6" height="4.6"/><rect x="284.9" y="412.0" width="4.6" height="4.6"/><rect x="284.9" y="419.0" width="4.6" height="4.6"/><rect x="284.9" y="432.3" width="4.6" height="4.6"/><rect x="284.9" y="448.5" width="4.6" height="4.6"/><rect x="284.9" y="460.4" width="4.6" height="4.6"/><rect x="284.9" y="475.4" width="4.6" height="4.6"/><rect x="284.9" y="487.4" width="4.6" height="4.6"/><rect x="284.9" y="501.0" width="4.6" height="4.6"/><rect x="284.9" y="512.4" width="4.6" height="4.6"/><rect x="284.9" y="525.0" width="4.6" height="4.6"/><rect x="284.9" y="537.2" width="4.6" height="4.6"/><rect x="284.9" y="552.0" width="4.6" height="4.6"/><rect x="284.9" y="563.9" width="4.6" height="4.6"/><rect x="284.9" y="575.8" width="4.6" height="4.6"/><rect x="284.9" y="587.8" width="4.6" height="4.6"/><rect x="284.9" y="599.7" width="4.6" height="4.6"/><rect x="284.9" y="613.2" width="4.6" height="4.6"/><rect x="284.9" y="628.1" width="4.6" height="4.6"/><rect x="284.9" y="641.4" width="4.6" height="4.6"/><rect x="284.9" y="656.2" width="4.6" height="4.6"/><rect x="284.9" y="668.8" width="4.6" height="4.6"/><rect x="284.9" y="677.2" width="4.6" height="4.6"/><rect x="284.9" y="692.0" width="4.6" height="4.6"/><rect x="284.9" y="703.9" width="4.6" height="4.6"/><rect x="284.9" y="712.3" width="4.6" height="4.6"/><rect x="284.9" y="718.7" width="4.6" height="4.6"/><rect x="284.9" y="725.0" width="4.6" height="4.6"/><rect x="284.9" y="732.7" width="4.6" height="4.6"/><rect x="284.9" y="739.7" width="4.6" height="4.6"/><rect x="284.9" y="746.7" width="4.6" height="4.6"/></g>
<g fill="none" stroke="#ff00ff" stroke-width="3"><circle cx="286.6" cy="352.5" r="4.7"/><circle cx="286.6" cy="531.1" r="4.7"/><circle cx="286.6" cy="547.2" r="4.7"/><circle cx="286.6" cy="732.2" r="4.7"/></g>
<g stroke="#3d52a5" stroke-width="1.6"><path d="M291.4,419.2 H302.8 M297.1,413.5 V424.9 M288.7,662.1 H300.1 M294.4,656.4 V667.8"/></g>
<circle cx="296.3" cy="540.5" r="3" fill="#3a55ab"/>
<text x="117.2" y="1021" font-size="27" text-anchor="middle">0.6</text>
<text x="230.2" y="1021" font-size="27" text-anchor="middle">0.8</text>
<text x="353.5" y="1021" font-size="27" text-anchor="middle">1.0</text>
<text x="456.8" y="1021" font-size="27" text-anchor="middle">1.2</text>
<text x="83.4" y="213.1" font-size="27" text-anchor="end">0.6</text>
<text x="83.4" y="326.4" font-size="27" text-anchor="end">0.4</text>
<text x="83.4" y="439.8" font-size="27" text-anchor="end">0.2</text>
<text x="83.4" y="553.2" font-size="27" text-anchor="end">0</text>
<text x="83.4" y="666.6" font-size="27" text-anchor="end">−0.2</text>
<text x="83.4" y="780.0" font-size="27" text-anchor="end">−0.4</text>
<text x="83.4" y="893.3" font-size="27" text-anchor="end">−0.6</text>
<text x="251.9" y="1050" font-size="27">R (m)</text>
<text transform="translate(32.1,544.25) rotate(-90)" font-size="27" text-anchor="middle">Z (m)</text>
<text x="423.5" y="134.4" font-size="33">a)</text>
<g clip-path="url(#cb)">
<path d="M648.8,96.1 V494.6 M713.9,96.1 V494.6 M779.0,96.1 V494.6 M844.1,96.1 V494.6 M909.2,96.1 V494.6 M583.9,361.8 H974.2 M583.9,228.9 H974.2" stroke="#000" stroke-width="1.3" stroke-dasharray="1.6 5.8" fill="none" opacity="0.7"/>
<path d="M675.8,255.1 V304.6 M671.8,304.6 h8 M671.8,255.1 h8M696.8,135.6 V206.9 M692.8,206.9 h8 M692.8,135.6 h8M700.8,155.5 V206.9 M696.8,206.9 h8 M696.8,155.5 h8M706.6,155.5 V192.3 M702.6,192.3 h8 M702.6,155.5 h8M721.6,186.4 V216.1 M717.6,216.1 h8 M717.6,186.4 h8M752.3,216.7 V243.8 M748.3,243.8 h8 M748.3,216.7 h8M766.5,255.7 V278.5 M762.5,278.5 h8 M762.5,255.7 h8M772.4,246.3 V269.8 M768.4,269.8 h8 M768.4,246.3 h8M665.0,376.9 V391.1 M661.0,391.1 h8 M661.0,376.9 h8M781.9,210.4 V237.1 M777.9,237.1 h8 M777.9,210.4 h8M789.6,219.6 V244.8 M785.6,244.8 h8 M785.6,219.6 h8M802.3,151.3 V311.5 M798.3,311.5 h8 M798.3,151.3 h8M810.5,204.7 V231.4 M806.5,231.4 h8 M806.5,204.7 h8M816.8,218.1 V248.6 M812.8,248.6 h8 M812.8,218.1 h8M824.8,222.3 V259.6 M820.8,259.6 h8 M820.8,222.3 h8M832.1,200.3 V228.2 M828.1,228.2 h8 M828.1,200.3 h8M849.3,133.8 V168.5 M845.3,168.5 h8 M845.3,133.8 h8M853.1,213.9 V241.0 M849.1,241.0 h8 M849.1,213.9 h8M869.7,168.9 V199.6 M865.7,199.6 h8 M865.7,168.9 h8M876.7,199.0 V227.6 M872.7,227.6 h8 M872.7,199.0 h8M796.2,329.9 V377.2 M792.2,377.2 h8 M792.2,329.9 h8M884.9,304.9 V322.9 M880.9,322.9 h8 M880.9,304.9 h8M892.6,367.8 V378.7 M888.6,378.7 h8 M888.6,367.8 h8M901.3,424.5 V433.7 M897.3,433.7 h8 M897.3,424.5 h8M908.6,446.0 V454.8 M904.6,454.8 h8 M904.6,446.0 h8M916.0,463.0 V471.0 M912.0,471.0 h8 M912.0,463.0 h8M922.6,469.5 V476.5 M918.6,476.5 h8 M918.6,469.5 h8M930.9,473.5 V480.3 M926.9,480.3 h8 M926.9,473.5 h8M937.0,477.0 V483.4 M933.0,483.4 h8 M933.0,477.0 h8M945.1,479.5 V485.3 M941.1,485.3 h8 M941.1,479.5 h8" stroke="#5f6fa6" stroke-width="2" fill="none"/>
<g fill="none" stroke="#4656a6" stroke-width="1.8"><circle cx="675.8" cy="279.5" r="5"/><circle cx="696.8" cy="170.8" r="5"/><circle cx="700.8" cy="180.9" r="5"/><circle cx="706.6" cy="174.1" r="5"/><circle cx="721.6" cy="201.4" r="5"/><circle cx="752.3" cy="230.1" r="5"/><circle cx="766.5" cy="266.4" r="5"/><circle cx="772.4" cy="260" r="5"/><circle cx="665" cy="384.3" r="5"/><circle cx="781.9" cy="225.7" r="5"/><circle cx="789.6" cy="232.4" r="5"/><circle cx="802.3" cy="231.8" r="5"/><circle cx="810.5" cy="218.1" r="5"/><circle cx="816.8" cy="233" r="5"/><circle cx="824.8" cy="241.3" r="5"/><circle cx="832.1" cy="213.9" r="5"/><circle cx="849.3" cy="151.3" r="5"/><circle cx="853.1" cy="227.2" r="5"/><circle cx="869.7" cy="184.3" r="5"/><circle cx="876.7" cy="213.3" r="5"/><circle cx="796.2" cy="353.5" r="5"/><circle cx="884.9" cy="313" r="5"/><circle cx="892.6" cy="373.3" r="5"/><circle cx="901.3" cy="429.1" r="5"/><circle cx="908.6" cy="450.4" r="5"/><circle cx="916" cy="467" r="5"/><circle cx="922.6" cy="473" r="5"/><circle cx="930.9" cy="476.9" r="5"/><circle cx="937" cy="480.2" r="5"/><circle cx="945.1" cy="482.4" r="5"/></g>
<g stroke="#ff00ff" stroke-width="3.5"><line x1="670.7" y1="96.1" x2="670.7" y2="494.6"/><line x1="777.2" y1="96.1" x2="777.2" y2="494.6"/><line x1="785.9" y1="96.1" x2="785.9" y2="494.6"/><line x1="888.3" y1="96.1" x2="888.3" y2="494.6"/></g>
</g>
<rect x="583.9" y="96.1" width="390.3" height="398.5" fill="none" stroke="#222" stroke-width="1.5"/>
<path d="M648.8,96.1 v4.5 M648.8,494.6 v-4.5 M713.9,96.1 v4.5 M713.9,494.6 v-4.5 M779.0,96.1 v4.5 M779.0,494.6 v-4.5 M844.1,96.1 v4.5 M844.1,494.6 v-4.5 M909.2,96.1 v4.5 M909.2,494.6 v-4.5 M583.9,494.6 h4.5 M974.2,494.6 h-4.5 M583.9,361.8 h4.5 M974.2,361.8 h-4.5 M583.9,228.9 h4.5 M974.2,228.9 h-4.5 M583.9,96.1 h4.5 M974.2,96.1 h-4.5" stroke="#222" stroke-width="1.5"/>
<text x="573.6" y="503.6" font-size="27" text-anchor="end">0</text>
<text x="573.6" y="370.8" font-size="27" text-anchor="end">0.5</text>
<text x="573.6" y="237.9" font-size="27" text-anchor="end">1.0</text>
<text x="573.6" y="105.1" font-size="27" text-anchor="end">1.5</text>
<text x="929" y="134.4" font-size="32.5">b)</text>
<text transform="translate(520.7,467.5) rotate(-90)" font-size="27">Electron temperature T<tspan font-size="19.5" dy="5.2">e</tspan><tspan dy="-5.2"> (keV)</tspan></text>
<g clip-path="url(#cc)">
<path d="M648.8,589.5 V987.8 M713.9,589.5 V987.8 M779.0,589.5 V987.8 M844.1,589.5 V987.8 M909.2,589.5 V987.8 M584,855.0 H974.2 M584,722.3 H974.2" stroke="#000" stroke-width="1.3" stroke-dasharray="1.6 5.8" fill="none" opacity="0.7"/>
<path d="M662.3,642.8 V908.6 M658.3,908.6 h8 M658.3,642.8 h8M664.9,705.4 V752.3 M660.9,752.3 h8 M660.9,705.4 h8M675.7,691.5 V735.8 M671.7,735.8 h8 M671.7,691.5 h8M680.9,523.6 V777.0 M676.9,777.0 h8M685.5,505.8 V777.0 M681.5,777.0 h8M692.4,436.5 V723.5 M688.4,723.5 h8M696.7,631.6 V665.3 M692.7,665.3 h8 M692.7,631.6 h8M700.9,613.9 V643.0 M696.9,643.0 h8 M696.9,613.9 h8M705.6,643.0 V680.4 M701.6,680.4 h8 M701.6,643.0 h8M668.8,742.8 V900.0 M664.8,900.0 h8 M664.8,742.8 h8M721.6,707.8 V734.7 M717.6,734.7 h8 M717.6,707.8 h8M752.3,667.6 V693.9 M748.3,693.9 h8 M748.3,667.6 h8M766.2,643.9 V670.8 M762.2,670.8 h8 M762.2,643.9 h8M772.4,637.5 V663.3 M768.4,663.3 h8 M768.4,637.5 h8M781.5,692.4 V718.7 M777.5,718.7 h8 M777.5,692.4 h8M789.3,675.9 V701.8 M785.3,701.8 h8 M785.3,675.9 h8M802.5,644.5 V721.5 M798.5,721.5 h8 M798.5,644.5 h8M796.3,724.0 V755.0 M792.3,755.0 h8 M792.3,724.0 h8M810.5,746.5 V773.2 M806.5,773.2 h8 M806.5,746.5 h8M816.9,717.8 V744.7 M812.9,744.7 h8 M812.9,717.8 h8M825.0,629.4 V660.4 M821.0,660.4 h8 M821.0,629.4 h8M832.0,635.1 V661.9 M828.0,661.9 h8 M828.0,635.1 h8M849.5,669.8 V696.5 M845.5,696.5 h8 M845.5,669.8 h8M853.2,702.7 V730.0 M849.2,730.0 h8 M849.2,702.7 h8M884.9,720.2 V746.4 M880.9,746.4 h8 M880.9,720.2 h8M869.6,732.7 V760.0 M865.6,760.0 h8 M865.6,732.7 h8M877.1,745.8 V772.6 M873.1,772.6 h8 M873.1,745.8 h8M892.8,752.0 V778.2 M888.8,778.2 h8 M888.8,752.0 h8M900.8,767.5 V794.1 M896.8,794.1 h8 M896.8,767.5 h8M908.3,781.0 V807.2 M904.3,807.2 h8 M904.3,781.0 h8M915.8,805.7 V832.5 M911.8,832.5 h8 M911.8,805.7 h8M922.4,810.6 V836.2 M918.4,836.2 h8 M918.4,810.6 h8M930.9,851.4 V877.6 M926.9,877.6 h8 M926.9,851.4 h8M937.4,851.4 V877.6 M933.4,877.6 h8 M933.4,851.4 h8M945.1,905.5 V932.7 M941.1,932.7 h8 M941.1,905.5 h8" stroke="#5f6fa6" stroke-width="2" fill="none"/>
<g fill="none" stroke="#4656a6" stroke-width="1.8"><circle cx="662.3" cy="775.5" r="5"/><circle cx="664.9" cy="728.6" r="5"/><circle cx="675.7" cy="713.7" r="5"/><circle cx="680.9" cy="650.3" r="5"/><circle cx="685.5" cy="641.4" r="5"/><circle cx="696.7" cy="648.2" r="5"/><circle cx="700.9" cy="629.5" r="5"/><circle cx="705.6" cy="661.7" r="5"/><circle cx="668.8" cy="821.4" r="5"/><circle cx="721.6" cy="721.5" r="5"/><circle cx="752.3" cy="680.6" r="5"/><circle cx="766.2" cy="657.2" r="5"/><circle cx="772.4" cy="650.1" r="5"/><circle cx="781.5" cy="705.6" r="5"/><circle cx="789.3" cy="688.6" r="5"/><circle cx="802.5" cy="683" r="5"/><circle cx="796.3" cy="739.4" r="5"/><circle cx="810.5" cy="759.7" r="5"/><circle cx="816.9" cy="731" r="5"/><circle cx="825" cy="645" r="5"/><circle cx="832" cy="648.8" r="5"/><circle cx="849.5" cy="683" r="5"/><circle cx="853.2" cy="716.8" r="5"/><circle cx="884.9" cy="732.9" r="5"/><circle cx="869.6" cy="746.4" r="5"/><circle cx="877.1" cy="759.1" r="5"/><circle cx="892.8" cy="765.1" r="5"/><circle cx="900.8" cy="780.6" r="5"/><circle cx="908.3" cy="794.1" r="5"/><circle cx="915.8" cy="818.4" r="5"/><circle cx="922.4" cy="823.1" r="5"/><circle cx="930.9" cy="864.2" r="5"/><circle cx="937.4" cy="864.5" r="5"/><circle cx="945.1" cy="919.1" r="5"/></g>
<g stroke="#ff00ff" stroke-width="3.5"><line x1="670.7" y1="589.5" x2="670.7" y2="987.8"/><line x1="777.2" y1="589.5" x2="777.2" y2="987.8"/><line x1="785.9" y1="589.5" x2="785.9" y2="987.8"/><line x1="888.3" y1="589.5" x2="888.3" y2="987.8"/></g>
</g>
<rect x="584" y="589.5" width="390.2" height="398.3" fill="none" stroke="#222" stroke-width="1.5"/>
<path d="M648.8,589.5 v4.5 M648.8,987.8 v-4.5 M713.9,589.5 v4.5 M713.9,987.8 v-4.5 M779.0,589.5 v4.5 M779.0,987.8 v-4.5 M844.1,589.5 v4.5 M844.1,987.8 v-4.5 M909.2,589.5 v4.5 M909.2,987.8 v-4.5 M584,987.8 h4.5 M974.2,987.8 h-4.5 M584,855.0 h4.5 M974.2,855.0 h-4.5 M584,722.3 h4.5 M974.2,722.3 h-4.5 M584,589.5 h4.5 M974.2,589.5 h-4.5" stroke="#222" stroke-width="1.5"/>
<g fill="none" stroke="#4656a6" stroke-width="1.8"><circle cx="677.9" cy="987.8" r="5"/><line x1="672.9" y1="987.8" x2="682.9" y2="987.8"/><circle cx="681" cy="987.8" r="5"/><line x1="676" y1="987.8" x2="686" y2="987.8"/><circle cx="683.9" cy="987.8" r="5"/><line x1="678.9" y1="987.8" x2="688.9" y2="987.8"/><circle cx="712.6" cy="987.8" r="5"/><line x1="707.6" y1="987.8" x2="717.6" y2="987.8"/><circle cx="729.3" cy="987.8" r="5"/><line x1="724.3" y1="987.8" x2="734.3" y2="987.8"/><circle cx="737.7" cy="987.8" r="5"/><line x1="732.7" y1="987.8" x2="742.7" y2="987.8"/><circle cx="744.9" cy="987.8" r="5"/><line x1="739.9" y1="987.8" x2="749.9" y2="987.8"/><circle cx="759.2" cy="987.8" r="5"/><line x1="754.2" y1="987.8" x2="764.2" y2="987.8"/><circle cx="841.8" cy="987.8" r="5"/><line x1="836.8" y1="987.8" x2="846.8" y2="987.8"/><circle cx="860.8" cy="987.8" r="5"/><line x1="855.8" y1="987.8" x2="865.8" y2="987.8"/><circle cx="951.3" cy="987.8" r="5"/><line x1="946.3" y1="987.8" x2="956.3" y2="987.8"/></g>
<text x="573.9" y="996.8" font-size="27" text-anchor="end">0</text>
<text x="573.9" y="864.0" font-size="27" text-anchor="end">5</text>
<text x="573.9" y="731.3" font-size="27" text-anchor="end">10</text>
<text x="573.9" y="598.5" font-size="27" text-anchor="end">15</text>
<text x="584" y="582.5" font-size="27">x 10</text><text x="632" y="567.7" font-size="16.5">18</text>
<text x="932" y="624.4" font-size="33">c)</text>
<text transform="translate(531.7,922.6) rotate(-90)" font-size="27">Electron density n<tspan font-size="19.5" dy="4.5">e</tspan><tspan dy="-4.5"> (m</tspan><tspan font-size="20" dy="-7">−3</tspan><tspan dy="7">)</tspan></text>
<text x="648.8" y="1021" font-size="27" text-anchor="middle">0.4</text>
<text x="630.8" y="1021" font-size="27" text-anchor="end">−</text>
<text x="713.9" y="1021" font-size="27" text-anchor="middle">0.2</text>
<text x="695.9" y="1021" font-size="27" text-anchor="end">−</text>
<text x="779.0" y="1021" font-size="27" text-anchor="middle">0</text>
<text x="844.1" y="1021" font-size="27" text-anchor="middle">0.2</text>
<text x="909.2" y="1021" font-size="27" text-anchor="middle">0.4</text>
<text x="974.3" y="1021" font-size="27" text-anchor="middle">0.6</text>
<text x="749.9" y="1050" font-size="27">Z (m)</text>
</svg></body></html>
